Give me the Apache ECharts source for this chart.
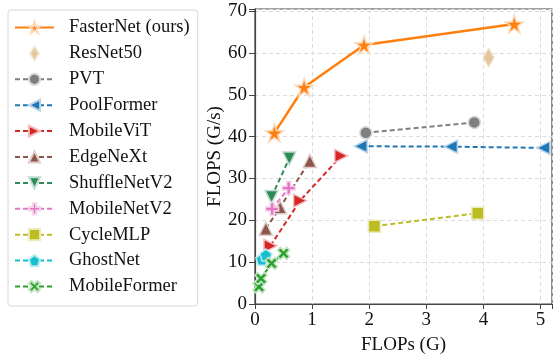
<!DOCTYPE html>
<html><head><meta charset="utf-8">
<script src="https://cdn.jsdelivr.net/npm/echarts@6/dist/echarts.min.js"></script>
<style>html,body{margin:0;padding:0;background:#fff}#c{width:557px;height:355px}</style>
</head><body><div id="c"></div>
<script>
const seriesNames = ['FasterNet (ours)','ResNet50','PVT','PoolFormer','MobileViT','EdgeNeXt','ShuffleNetV2','MobileNetV2','CycleMLP','GhostNet','MobileFormer'];
const fasterX = [0.34, 0.86, 1.91, 4.54], fasterY = [40.9, 51.8, 61.9, 66.9];
const resnetX = [4.09], resnetY = [58.9];
const pvtX = [1.94, 3.84], pvtY = [40.9, 43.4];
const poolX = [1.85, 3.43, 5.05], poolY = [37.7, 37.6, 37.3];
const mvitX = [0.27, 0.79, 1.51], mvitY = [13.9, 24.7, 35.4];
const edgeX = [0.19, 0.44, 0.96], edgeY = [18.0, 23.1, 34.2];
const shuffleX = [0.29, 0.60], shuffleY = [25.6, 34.8];
const mnv2X = [0.30, 0.59], mnv2Y = [22.7, 27.7];
const cycleX = [2.09, 3.90], cycleY = [18.6, 21.7];
const ghostX = [0.12, 0.19], ghostY = [10.7, 11.7];
const mformerX = [0.07, 0.105, 0.29, 0.50], mformerY = [4.1, 6.1, 9.7, 12.1];
const xTicks = [0,1,2,3,4,5];
const yTicks = [0,10,20,30,40,50,60,70];

const STAR = 'path://M0,-10L2.23,-3.07L9.51,-3.09L3.61,1.17L5.88,8.09L0,3.8L-5.88,8.09L-3.61,1.17L-9.51,-3.09L-2.23,-3.07Z';
const PENT = 'path://M0,-10L9.51,-3.09L5.88,8.09L-5.88,8.09L-9.51,-3.09Z';
const PLUS = 'path://M-3,-10L3,-10L3,-3L10,-3L10,3L3,3L3,10L-3,10L-3,3L-10,3L-10,-3L-3,-3Z';
const XMARK = 'path://M4.95,-9.19L9.19,-4.95L4.24,0L9.19,4.95L4.95,9.19L0,4.24L-4.95,9.19L-9.19,4.95L-4.24,0L-9.19,-4.95L-4.95,-9.19L0,-4.24Z';
const DIAM = 'path://M0,-9L5.5,0L0,9L-5.5,0Z';
const FONT = "'Liberation Serif','Times New Roman',serif";

function zip(xs, ys){ return xs.map((x,i)=>[x, ys[i]]); }
function lighten(hex, t){
  const n = parseInt(hex.slice(1),16);
  const r=(n>>16)&255,g=(n>>8)&255,b=n&255;
  const f=c=>Math.round(c+(255-c)*t);
  return 'rgb('+f(r)+','+f(g)+','+f(b)+')';
}
function lineSeries(name, xs, ys, color, symbol, size, opts){
  opts = opts || {};
  return {
    name, type:'line', data: zip(xs, ys), symbol, symbolSize: size,
    symbolRotate: opts.rotate || 0,
    lineStyle:{color, width: opts.width || 2, type: opts.solid ? 'solid' : [5,3]},
    itemStyle:{color, borderColor: lighten(color, 0.7), borderWidth: 1.5},
    z: opts.z || 2
  };
}
const series = [
  lineSeries(seriesNames[0], fasterX, fasterY, '#ff7f0e', STAR, 18, {solid:true, width:2.5, z:5}),
  {name: seriesNames[1], type:'scatter', data: zip(resnetX, resnetY), symbol:DIAM, symbolSize:[11,19],
   itemStyle:{color:'#deb887', borderColor: lighten('#deb887',0.6), borderWidth:1.5}},
  lineSeries(seriesNames[2], pvtX, pvtY, '#7f7f7f', 'circle', 12),
  lineSeries(seriesNames[3], poolX, poolY, '#1f77b4', 'triangle', 13, {rotate:90}),
  lineSeries(seriesNames[4], mvitX, mvitY, '#d62728', 'triangle', 13, {rotate:-90}),
  lineSeries(seriesNames[5], edgeX, edgeY, '#8c564b', 'triangle', 13),
  lineSeries(seriesNames[6], shuffleX, shuffleY, '#2e8b57', 'triangle', 13, {rotate:180}),
  lineSeries(seriesNames[7], mnv2X, mnv2Y, '#e377c2', PLUS, 13),
  lineSeries(seriesNames[8], cycleX, cycleY, '#bcbd22', 'rect', 12),
  lineSeries(seriesNames[9], ghostX, ghostY, '#17becf', PENT, 12),
  lineSeries(seriesNames[10], mformerX, mformerY, '#2ca02c', XMARK, 12)
];
const legendData = seriesNames.map(n => n === 'ResNet50' ? {name:n, icon: DIAM} : {name:n});
const chart = echarts.init(document.getElementById('c'), null, {renderer:'canvas'});
chart.setOption({
  animation:false,
  backgroundColor:'#fff',
  textStyle:{fontFamily: FONT},
  grid:{left:255, right:5, top:9, bottom:51, containLabel:false, outerBoundsMode:'none',
        show:true, borderColor:'#444', borderWidth:1.2, backgroundColor:'transparent'},
  legend:{
    orient:'vertical', left:8, top:10, padding:[8,8,10,6],
    borderColor:'#d8d8d8', borderWidth:1, borderRadius:3,
    itemWidth:39, itemHeight:14, itemGap:6.9,
    data: legendData,
    textStyle:{fontFamily:FONT, fontSize:18.5, lineHeight:16, color:'#111', padding:[0,0,0,10]}
  },
  xAxis:{
    type:'value', min:0, max:5.2, interval:1,
    name:'FLOPs (G)', nameLocation:'middle', nameGap:32, nameMoveOverlap:false,
    nameTextStyle:{fontFamily:FONT, fontSize:19, color:'#111'},
    axisLine:{show:true, lineStyle:{color:'#444', width:1.2}},
    axisTick:{show:true, length:5, lineStyle:{color:'#444'}},
    axisLabel:{fontFamily:FONT, fontSize:19, color:'#111', margin:7,
      formatter:v=> xTicks.indexOf(v)>=0 ? String(v) : ''},
    splitLine:{show:true, lineStyle:{color:'#dcdcdc', type:[4,3], width:1}}
  },
  yAxis:{
    type:'value', min:0, max:70.5, interval:10,
    name:'FLOPS (G/s)', nameLocation:'middle', nameGap:30, nameMoveOverlap:false,
    nameTextStyle:{fontFamily:FONT, fontSize:19, color:'#111'},
    axisLine:{show:true, lineStyle:{color:'#444', width:1.2}},
    axisTick:{show:true, length:6, lineStyle:{color:'#444'}},
    axisLabel:{fontFamily:FONT, fontSize:19, color:'#111', margin:8,
      formatter:v=> yTicks.indexOf(v)>=0 ? String(v) : ''},
    splitLine:{show:true, lineStyle:{color:'#dcdcdc', type:[4,3], width:1}}
  },
  series
});
</script></body></html>
